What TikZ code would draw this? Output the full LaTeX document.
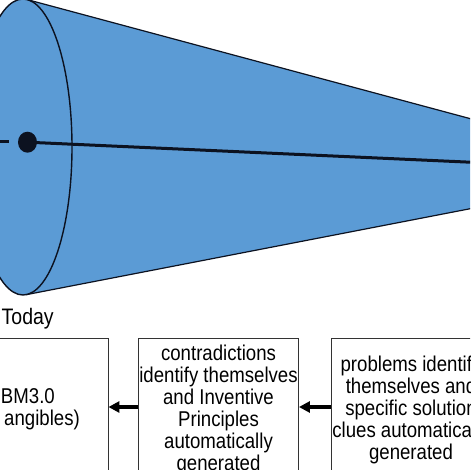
\documentclass[tikz,border=0pt]{standalone}
\usepackage{fontspec}
\setmainfont{Liberation Sans}
\newfontfamily\tallfont[FakeStretch=0.87]{Liberation Sans}
\usetikzlibrary{arrows.meta}
\definecolor{conefill}{RGB}{91,155,213}
\definecolor{edgecol}{RGB}{12,18,32}
\begin{document}
\begin{tikzpicture}[x=1pt,y=-1pt,
  box/.style={draw=black!80, line width=0.9pt, minimum width=160pt, minimum height=138pt, inner sep=0pt},
  lbl/.style={inner sep=0pt, align=center, font=\tallfont\fontsize{21.4}{22}\selectfont},
  flow/.style={line width=3.5pt, -{Triangle[length=11pt,width=11pt]}}]
\useasboundingbox (0,0) rectangle (470,470);
\clip (0,0) rectangle (470,470);
% cone
\coordinate (apex) at (665,171);
\coordinate (ttop) at (27.3,-0.4);
\coordinate (tbot) at (26.1,294.7);
\fill[conefill] (ttop) -- (apex) -- (tbot) -- cycle;
\filldraw[fill=conefill, draw=edgecol, line width=1.4pt] (23,147) ellipse [x radius=49, y radius=148];
\draw[edgecol, line width=1.2pt] (ttop) -- (apex);
\draw[edgecol, line width=1.2pt] (tbot) -- (apex);
% axis
\coordinate (dotc) at (27.5,142.2);
\draw[edgecol, line width=3pt] (dotc) -- (apex);
\coordinate (dashA) at (-2,141.7);
\coordinate (dashB) at (9,141.7);
\draw[edgecol, line width=3.5pt] (dashA) -- (dashB);
\fill[edgecol] (dotc) ellipse [x radius=9.5, y radius=10.5];
% label
\node[anchor=base west, inner sep=0pt, font=\tallfont\fontsize{22.4}{22}\selectfont] (today) at (1.5,324.5) {Today};
% boxes
\node[box] (b1) at (28,407) {};
\node[lbl, anchor=base east] (b1a) at (55,403) {BM3.0};
\node[lbl, anchor=base east] (b1b) at (80,425.5) {angibles)};
\node[box] (b2) at (218.5,407) {};
\node[lbl] (b2t) at (218.5,410) {contradictions\\identify themselves\\and Inventive\\Principles\\automatically\\generated};
\node[box] (b3) at (411,407) {};
\node[lbl] (b3t) at (411,410) {problems identify\\themselves and\\specific solution\\clues automatically\\generated};
\draw[flow] (b2.west) -- (b1.east);
\draw[flow] (b3.west) -- (b2.east);
\end{tikzpicture}
\end{document}
